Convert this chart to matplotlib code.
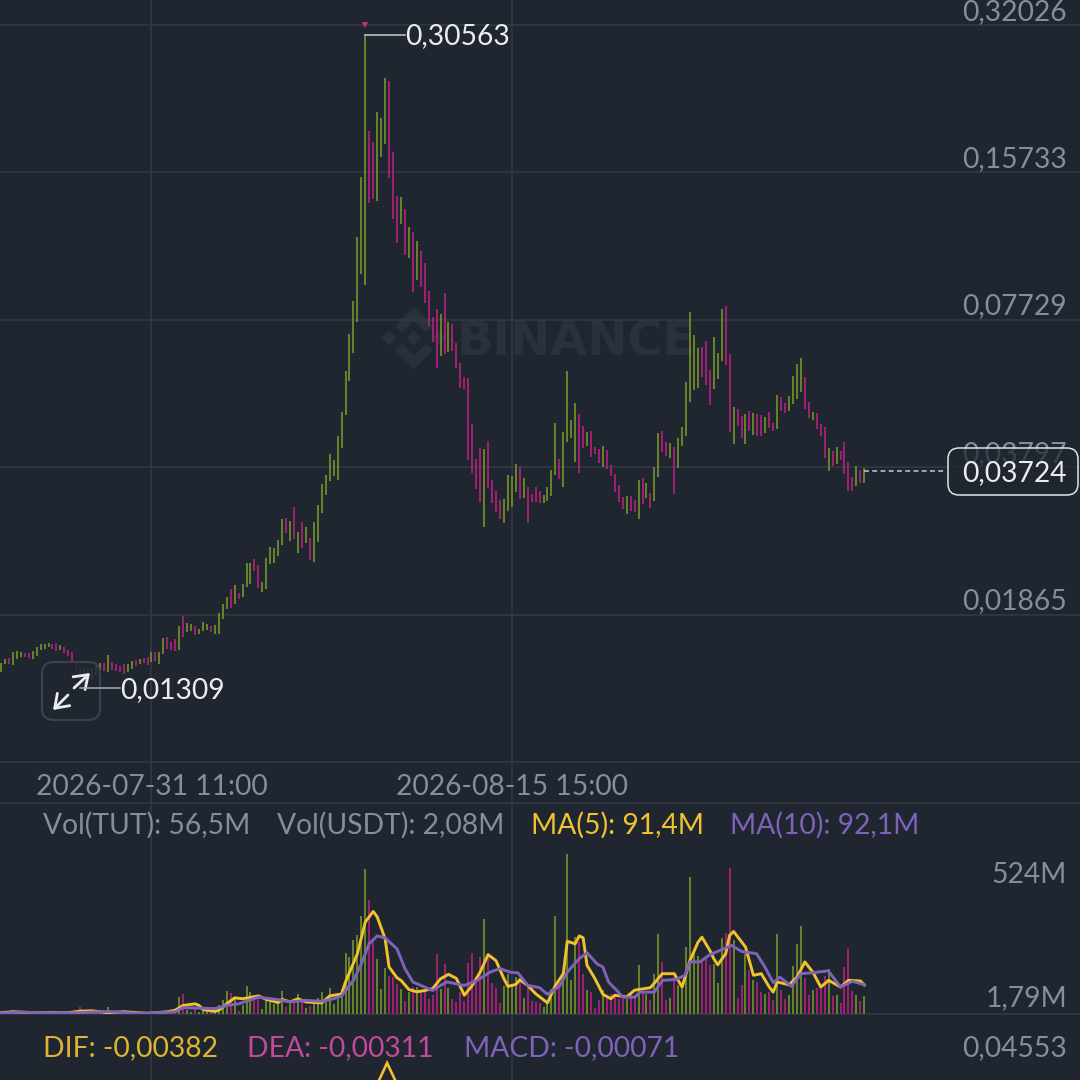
import matplotlib
matplotlib.use("Agg")
import matplotlib.pyplot as plt
from matplotlib.patches import FancyBboxPatch, Polygon

plt.rcParams['font.family'] = ['Lato', 'DejaVu Sans']

# candle highs / lows, in units of 1e-5 USDT
high_e5 = [1480,1509,1516,1561,1568,1561,1553,1553,1568,1599,1622,1622,1630,1622,1630,1614,1599,1576,1561,1494,1452,1445,1438,1445,1459,1480,1480,1538,1487,1473,1459,1473,1473,1494,1502,1509,1516,1523,1561,1561,1561,1669,1678,1638,1661,1769,1856,1795,1786,1769,1743,1803,1786,1769,1777,1883,1967,2034,2114,2155,2074,2166,2396,2396,2443,2373,2187,2455,2588,2576,2677,2962,2977,2934,3139,2782,2920,2850,2703,2920,3169,3507,3662,4052,3936,4419,4961,6045,7224,8470,11530,15395,30563,19216,18224,21058,20458,24807,24451,17366,14048,13981,13195,12099,11811,11310,10777,10172,8888,7841,8149,7955,8803,7655,7581,6918,6282,5872,5844,4682,3955,4171,4151,4314,3575,3390,3246,3262,3662,3644,3861,3806,3609,3456,3342,3456,3390,3325,3456,3751,4705,3955,4505,6045,4773,5181,4913,4637,4505,4527,4191,4151,4211,4131,3843,3680,3490,3294,3310,3310,3246,3575,3609,3523,3358,3806,4483,4527,4293,4273,4191,4377,4615,5733,8032,7190,6753,6786,6985,6074,7121,6592,8149,8268,6561,5082,5033,4866,4913,4985,4937,4913,4890,4843,4961,4705,5384,5333,5181,5359,5901,6252,6435,5872,5206,4961,4937,4682,4615,4171,4111,4191,4111,4293,3899,3627,3824,3751,3788]
low_e5 = [1417,1473,1473,1466,1509,1523,1523,1516,1509,1531,1576,1583,1599,1583,1568,1576,1553,1531,1494,1424,1309,1338,1364,1364,1397,1431,1424,1417,1431,1424,1417,1404,1417,1438,1459,1473,1480,1466,1487,1494,1473,1546,1583,1576,1568,1576,1678,1718,1727,1694,1702,1727,1735,1718,1702,1702,1830,1920,1929,1967,2015,2034,2135,2166,2306,2124,2084,2114,2385,2396,2479,2613,2769,2664,2690,2515,2576,2639,2431,2408,2651,3049,3325,3558,3644,3575,4171,4890,5760,6592,7655,9647,9149,13582,13847,13714,16953,18049,15321,12574,11201,12275,10572,10420,8845,9372,9061,8389,7508,6951,6133,6498,6561,6624,6656,6133,5569,5542,3936,3697,3423,3215,2850,3440,3200,3064,2962,2906,3079,3139,3374,3262,3278,2906,3215,3215,3200,3200,3231,3310,3662,3592,3456,4293,4377,3899,3697,4171,4211,3994,4052,3880,3806,3769,3644,3374,3215,3109,3035,3079,3064,2962,3184,3278,3124,3231,3627,4091,4013,3975,3342,3788,4211,4419,5206,5516,5569,5872,5650,5131,5542,5816,6343,6222,4505,4252,4637,4377,4252,4527,4440,4419,4419,4483,4593,4527,4571,4985,4937,4985,5156,5282,5463,5033,4820,4773,4571,4419,3975,3733,3824,3861,3936,3680,3390,3390,3473,3523,3523]
# G = close above open, P = close below open
direction = ("GGPGGGPPGG" "GGGPPGPPPP" "PGGGGGPGPP" "PPGGPGPPGP" "GGPPPGPGGP"
             "GGGPGGGGPG" "PGGGPPGGGG" "GGPGPGPGPG" "GGGGGGGGGG" "GGGPPGGGPP"
             "PGPGPGPPPP" "PGPGPPPPPP" "PPGPPPPGGG" "GPGPPPPGGG" "GPGGGGPPGP"
             "PPGPPPPPGP" "PGPGPGGPPG" "PGGGGGGPPP" "GGGPPGPPGP" "GPPGPPGPPG"
             "GGGPPGPPPG" "PGPPPPGPG")
# volume, millions
volume = [4,5,5,13,5,5,4,4,5,5, 5,4,4,4,4,4,4,4,5,5, 23,6,5,5,6,6,5,21,6,5, 5,5,5,4,4,4,4,5,5,4,
          5,6,7,6,8,53,62,14,6,22, 7,11,12,12,14,28,43,74,66,48, 8,27,89,69,54,59,15,43,38,30,
          38,72,22,30,35,62,45,20,26,38, 51,70,51,81,33,48,78,193,180,232, 248,309,456,358,227,174,78,146,119,117,
          96,78,40,69,85,85,69,75,48,59, 188,80,159,83,48,38,69,41,162,192, 101,180,298,180,99,81,35,87,127,87,
          117,101,50,90,40,37,35,22,38,80, 308,101,127,503,106,243,227,125,75,69, 20,45,75,56,64,56,48,46,48,62,
          56,153,69,64,43,127,251,164,43,50, 117,90,85,211,432,195,184,164,180,153, 159,98,240,256,461,232,51,90,190,138,
          106,101,69,62,69,43,251,75,48,59, 150,219,278,113,61,77,82,83,119,143, 57,59,36,148,209,72,59,40,56.5]
# moving averages read at selected candles
ma5_x = [0,3,8,17,20,23,27,31,37,42,44,46,49,50,51,54,55,57,59,61,65,67,70,71,73,75,77,81,83,86,87,90,92,94,95,97,98,100,101,103,105,107,109,111,113,115,117,119,121,123,125,127,128,130,131,133,135,138,140,142,143,145,146,147,148,150,152,154,155,158,160,164,167,170,172,174,176,177,179,180,181,183,184,185,188,190,192,194,195,196,199,201,203,205,207,209,212,214,217,218]
ma5_y = [4,7,4,4,9,10,4,7,2,7,12,27,32,27,14,8,12,32,51,48,57,46,36,46,38,48,38,35,57,63,101,190,290,323,306,237,148,114,106,77,70,74,80,111,125,112,59,90,132,187,168,111,87,93,108,90,64,35,90,127,229,221,246,240,153,111,62,48,59,54,75,83,127,127,85,169,226,242,200,174,155,190,248,260,211,122,127,85,69,101,92,116,164,132,85,106,85,106,104,91.4]
ma10_x = [0,5,12,19,27,33,38,44,46,54,57,60,65,70,73,77,81,84,86,89,91,93,95,97,100,102,104,106,109,111,112.6,117,120,123.5,126,128.5,130.6,133,136,138,141,143,146,148,150.5,152,153.4,155.5,157,160,161.4,165,167,170.6,172.7,174,176.5,179,181.5,184.5,187,190.8,192.9,195,196.7,199.6,202,205,208.9,212,215,218]
ma10_y = [3,6,3,4,8,3,3,7,20,17,27,32,53,45,38,43,40,48,57,106,158,222,246,240,205,143,101,90,74,90,101,90,104,132,143,132,129,90,83,62,87,132,174,193,158,148,101,74,53,53,69,69,106,109,122,164,164,187,200,216,197,190,148,99,116,87,127,130,136,85,103,92.1]
# DIF line, the only part of the MACD pane in view
dif_x = [95.5,97.5,99.5]
dif_y = [0.0398,0.04553,0.0398]

price_ticks = [0.32026,0.15733,0.07729,0.03797,0.01865]
price_tick_labels = ['0,32026','0,15733','0,07729','0,03797','0,01865']
time_tick_x = [38,129]
time_tick_labels = ['2026-07-31 11:00','2026-08-15 15:00']
high_value, low_value, last_value = 0.30563, 0.01309, 0.03724
high_label, low_label, last_label = '0,30563', '0,01309', '0,03724'
high_idx, low_idx, last_idx = 92, 20, 218

BG='#1f2630'; GRID='#333a45'; GREY='#848e9c'; WHITE='#eaecef'
GREEN='#73902a'; PINK='#b2207c'; YEL='#f0c22e'; PUR='#7f63b8'
FS=20.3
XLIM=(-0.25,272.47)

fig=plt.figure(figsize=(10.8,10.8),dpi=100,facecolor=BG)
def panel(y1,y2,z):
    a=fig.add_axes([0,1-y2/1080,1,(y2-y1)/1080],zorder=z)
    a.patch.set_visible(False)
    for s in a.spines.values(): s.set_visible(False)
    a.set_xticks([]); a.set_yticks([]); a.minorticks_off()
    return a

# pixel layers for furniture
bg=panel(0,1080,0); bg.set_xlim(*XLIM); bg.set_ylim(1080,0)
ov=panel(0,1080,6); ov.set_xlim(0,1080); ov.set_ylim(1080,0)
wm=panel(0,1080,0.5); wm.set_xlim(0,1080); wm.set_ylim(1080,0)

for x in time_tick_x:
    bg.axvline(x,color=GRID,lw=1.1)
for y in (762,803):
    bg.axhline(y,color=GRID,lw=1.1)
bg.axhline(1014,color=GRID,lw=1.1)

# watermark
WM='#2a313c'
for cx in (389,414,439):
    wm.add_patch(Polygon([(cx-7.5,338),(cx,330.5),(cx+7.5,338),(cx,345.5)],color=WM,lw=0))
for s in (1,-1):
    pts=[(414,338-s*31),(433,338-s*12),(426,338-s*5.5),(414,338-s*17.5),(402,338-s*5.5),(395,338-s*12)]
    wm.add_patch(Polygon(pts,color=WM,lw=0))
wm.text(457,355.5,'BINANCE',color=WM,fontsize=34.5,fontweight='bold',family=['DejaVu Sans'],ha='left',va='baseline')

# price pane
ax=panel(0,762,2); ax.set_xlim(*XLIM); ax.set_yscale('log'); ax.set_ylim(0.00917,0.36132)
ax.minorticks_off(); ax.set_yticks([])
for t in price_ticks:
    ax.axhline(t,color=GRID,lw=1.1,zorder=0)
cols=[GREEN if d=='G' else PINK for d in direction]
xs=list(range(len(high_e5)))
ax.vlines(xs,[v/1e5 for v in low_e5],[v/1e5 for v in high_e5],colors=cols,lw=1.25,zorder=2)
ax.plot([high_idx],[price_ticks[0]],marker='v',ms=4,color='#d0307f',mew=0,ls='none',clip_on=False,zorder=3)
ax.plot([high_idx,high_idx+10],[high_value,high_value],color='#c8ccd2',lw=1.1,zorder=3)
ax.plot([last_idx,last_idx+20.5],[last_value,last_value],color='#c8ccd2',lw=1.1,dashes=(3.2,2.2),zorder=3)
for t,l in zip(price_ticks,price_tick_labels):
    ax.annotate(l,xy=(1,t),xycoords=('axes fraction','data'),xytext=(-9.4,3.9),textcoords='offset points',
                ha='right',va='baseline',color=GREY,fontsize=FS,zorder=1)
ax.annotate(high_label,xy=(high_idx+10,high_value),xytext=(0,-1),textcoords='offset points',ha='left',va='center',color=WHITE,fontsize=FS,zorder=4)

for i,l in zip(time_tick_x,time_tick_labels):
    bg.text(i,795,l,ha='center',va='baseline',color=GREY,fontsize=FS)

# volume pane
vax=panel(803,1014,2); vax.set_xlim(*XLIM); vax.set_ylim(0,664.65)
vax.vlines(xs,0,volume,colors=cols,lw=1.25,zorder=1)
vax.plot(ma5_x,ma5_y,color=YEL,lw=2.1,zorder=2,solid_joinstyle='round')
vax.plot(ma10_x,ma10_y,color=PUR,lw=2.1,zorder=3,solid_joinstyle='round')

# MACD pane
max_=panel(1014,1080,2); max_.set_xlim(*XLIM); max_.set_ylim(0.04553-17*0.000338,0.04553+49*0.000338)
max_.plot(dif_x,dif_y,color=YEL,lw=1.9,solid_joinstyle='miter')

# icon over candles
ov.add_patch(FancyBboxPatch((42+10,662+10),58-20,58-20,boxstyle='round,pad=10,rounding_size=12',fc=(0.122,0.149,0.188,0.82),ec='#3a4250',lw=1.6))
for tip,tail in (((90,673),(74,688)),((53,710),(68,695))):
    ov.annotate('',xy=tip,xytext=tail,arrowprops=dict(arrowstyle='->,head_length=0.6,head_width=0.42',mutation_scale=15,color=WHITE,lw=2.0,shrinkA=0,shrinkB=0))
ax2=panel(0,762,7); ax2.set_xlim(*XLIM); ax2.set_yscale('log'); ax2.set_ylim(0.00917,0.36132); ax2.minorticks_off(); ax2.set_yticks([])
ax2.plot([low_idx,low_idx+10],[low_value,low_value],color='#a8adb5',lw=1.1)
ax2.annotate(low_label,xy=(low_idx+10,low_value),xytext=(0,-1.6),textcoords='offset points',ha='left',va='center',color=WHITE,fontsize=FS)
# last price box
ov.add_patch(FancyBboxPatch((948+10,448+10),130-20,47-20,boxstyle='round,pad=10,rounding_size=11',fc=(0.122,0.149,0.188,0.72),ec='#e0e3e8',lw=1.1))
ax2.annotate(last_label,xy=(1,last_value),xycoords=('axes fraction','data'),xytext=(-9.4,-1.6),textcoords='offset points',ha='right',va='center',color=WHITE,fontsize=FS)

# legends
for x,s,c in ((43,'Vol(TUT): 56,5M',GREY),(277,'Vol(USDT): 2,08M',GREY),(531,'MA(5): 91,4M',YEL),(730,'MA(10): 92,1M',PUR)):
    ov.text(x,834,s,color=c,fontsize=FS,ha='left',va='baseline')
for x,s,c in ((43,'DIF: -0,00382','#dcb532'),(247,'DEA: -0,00311','#c24a9e'),(464,'MACD: -0,00071',PUR)):
    ov.text(x,1056,s,color=c,fontsize=FS,ha='left',va='baseline')
for y,s in ((883,'524M'),(1006,'1,79M'),(1056,'0,04553')):
    ov.text(1067,y,s,color=GREY,fontsize=FS,ha='right',va='baseline')

fig.savefig('out.png',dpi=100,facecolor=BG)
